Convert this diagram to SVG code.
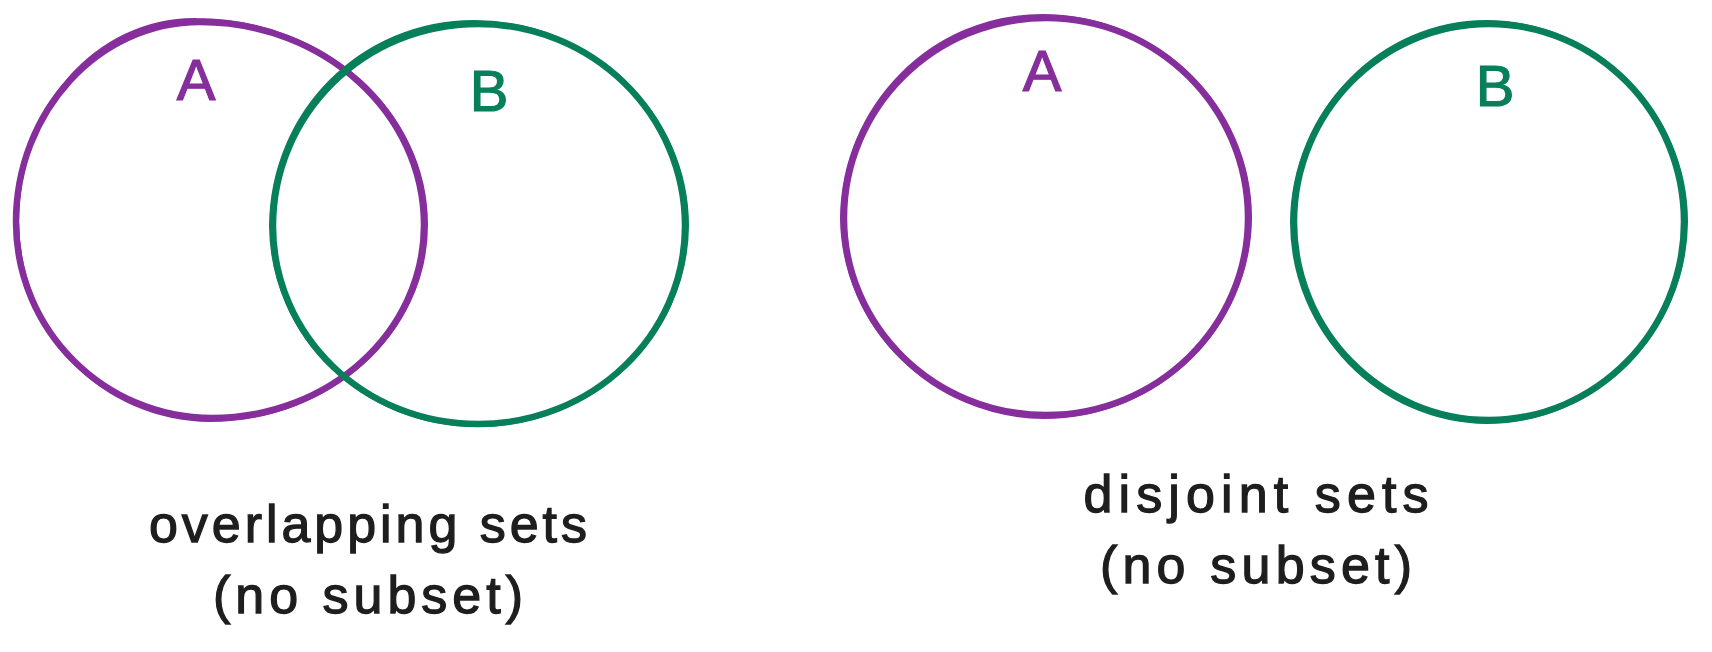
<svg xmlns="http://www.w3.org/2000/svg" width="1712" height="652" viewBox="0 0 1712 652">
<style>
.set{fill:none;stroke-width:6.5;stroke-linecap:round;stroke-linejoin:round}
.sketch{fill:none;stroke-width:4;stroke-linecap:round;stroke-linejoin:round}
.a{stroke:#862e9c}
.b{stroke:#087f5b}
.lbl{font-family:"Liberation Sans",Arial,sans-serif;font-size:58px;text-anchor:middle;stroke-width:1.2}
.la{fill:#862e9c;stroke:#862e9c}
.lb{fill:#087f5b;stroke:#087f5b}
.cap{font-family:"Liberation Sans",Arial,sans-serif;font-size:52px;fill:#1e1e1e;stroke:#1e1e1e;stroke-width:1.3;text-anchor:middle}
</style>
<rect width="1712" height="652" fill="#ffffff"/>
<g id="overlap-A">
<path class="set a" d="M200 22 C324 22 424 113 424 225 C424 332 329 418 212 418 C104 418 16 330 16 222 C16 112 98 22 200 22 Z"/>
<path class="sketch a" d="M196 20 C322 20 426 111 426 225 C426 334 327 420 210 420 C102 419 18 331 17 221 C17 112 96 19 196 20"/>
<text class="lbl la" x="196" y="100">A</text>
</g>
<g id="overlap-B">
<path class="set b" d="M478 24 C592 24 685 114 685 226 C685 336 592 424 478 424 C364 424 273 336 273 226 C273 114 364 24 478 24 Z"/>
<path class="sketch b" d="M474 22 C590 22 687 113 687 226 C686 337 590 426 476 425 C362 424 272 335 271 226 C272 112 362 22 474 22"/>
<text class="lbl lb" x="489" y="111">B</text>
</g>
<g id="overlap-caption">
<text class="cap" x="368" y="542" textLength="438" lengthAdjust="spacing">overlapping sets</text>
<text class="cap" x="368" y="613" textLength="310" lengthAdjust="spacing">(no subset)</text>
</g>
<g id="disjoint-A">
<path class="set a" d="M1046 18 C1158 18 1248 108 1248 218 C1248 326 1158 415 1046 415 C934 415 844 326 844 218 C844 108 934 18 1046 18 Z"/>
<path class="sketch a" d="M1042 16 C1156 16 1250 106 1250 218 C1249 328 1156 417 1044 417 C932 416 843 325 842 218 C843 107 932 16 1042 16"/>
<text class="lbl la" x="1042" y="91">A</text>
</g>
<g id="disjoint-B">
<path class="set b" d="M1489 24 C1596 24 1684 112 1684 222 C1684 331 1596 420 1489 420 C1382 420 1294 331 1294 222 C1294 112 1382 24 1489 24 Z"/>
<path class="sketch b" d="M1486 22 C1594 22 1686 111 1686 222 C1685 333 1594 422 1487 422 C1380 421 1292 331 1292 222 C1293 111 1382 22 1486 22"/>
<text class="lbl lb" x="1495" y="106">B</text>
</g>
<g id="disjoint-caption">
<text class="cap" x="1256" y="512" textLength="345" lengthAdjust="spacing">disjoint sets</text>
<text class="cap" x="1256" y="583" textLength="312" lengthAdjust="spacing">(no subset)</text>
</g>
</svg>
